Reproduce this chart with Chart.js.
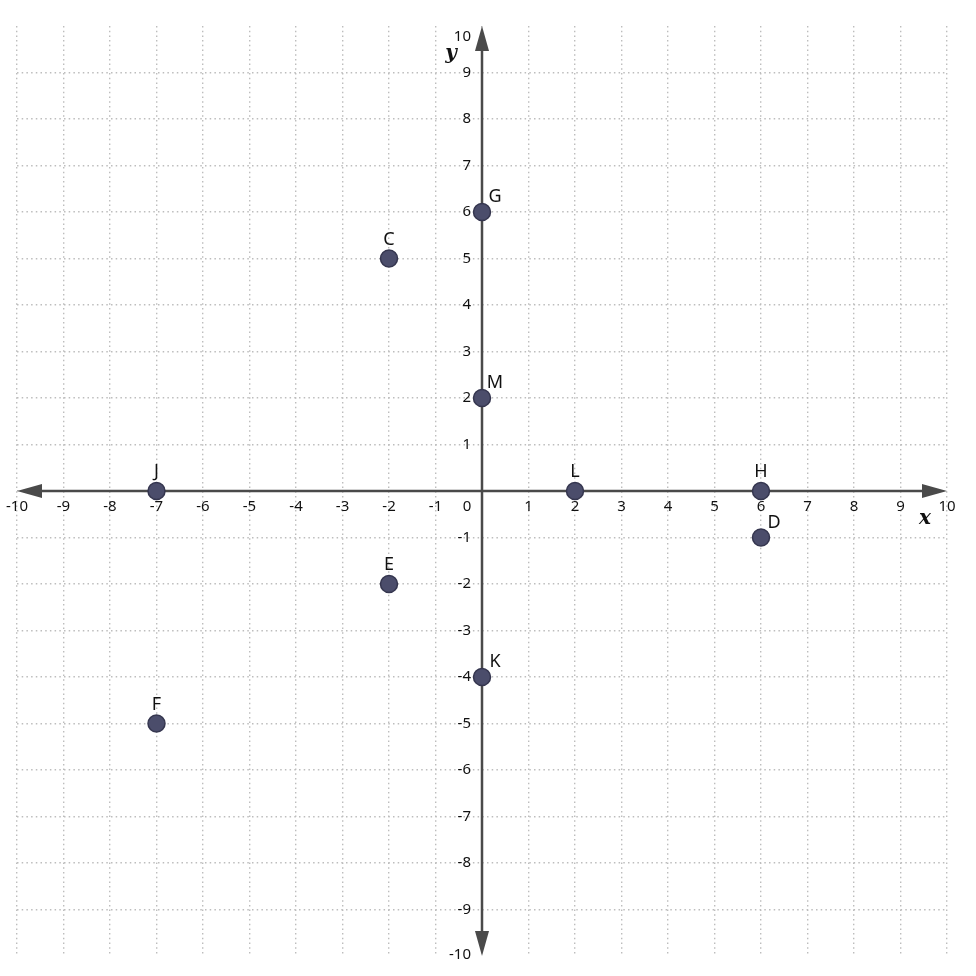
<!DOCTYPE html>
<html>
<head>
<meta charset="utf-8">
<script src="https://cdn.jsdelivr.net/npm/chart.js@4/dist/chart.umd.min.js"></script>
<style>
  html, body { margin: 0; padding: 0; background: #fff; }
  #wrap { width: 976px; height: 976px; }
</style>
</head>
<body>
<div id="wrap"><canvas id="plane" width="976" height="976"></canvas></div>
<script>
// points on the coordinate plane
const pointNames = ['C', 'G', 'M', 'J', 'L', 'H', 'D', 'E', 'K', 'F'];
const xValues = [-2, 0, 0, -7, 2, 6, 6, -2, 0, -7];
const yValues = [5, 6, 2, 0, 0, 0, -1, -2, -4, -5];

// tick labels
const xTicks = [-10, -9, -8, -7, -6, -5, -4, -3, -2, -1, 0, 1, 2, 3, 4, 5, 6, 7, 8, 9, 10];
const yTicks = [-10, -9, -8, -7, -6, -5, -4, -3, -2, -1, 1, 2, 3, 4, 5, 6, 7, 8, 9, 10];

const axisColor = '#4a4a4a';
const gridColor = '#bdbdbd';
const labelFont = "'Noto Sans', 'Open Sans', sans-serif";

// labels that sit up and to the right instead of centered above
const rightLabels = ['G', 'M', 'D', 'K'];

function arrow(ctx, tipX, tipY, dx, dy) {
    // dx, dy: unit direction the arrow points to
    const len = 25, half = 7;
    const bx = tipX - dx * len, by = tipY - dy * len;
    ctx.beginPath();
    ctx.moveTo(tipX, tipY);
    ctx.lineTo(bx - dy * half, by + dx * half);
    ctx.lineTo(bx + dy * half, by - dx * half);
    ctx.closePath();
    ctx.fill();
}

const planePlugin = {
    id: 'plane',
    beforeDatasetsDraw(chart) {
        const ctx = chart.ctx;
        const xs = chart.scales.x, ys = chart.scales.y;
        const x0 = xs.getPixelForValue(0), y0 = ys.getPixelForValue(0);
        const left = xs.getPixelForValue(-10), right = xs.getPixelForValue(10);
        const top = ys.getPixelForValue(10), bottom = ys.getPixelForValue(-10);

        ctx.save();
        ctx.strokeStyle = axisColor;
        ctx.fillStyle = axisColor;
        ctx.lineWidth = 2.5;
        ctx.beginPath();
        ctx.moveTo(left + 20, y0); ctx.lineTo(right - 20, y0);
        ctx.moveTo(x0, top + 20); ctx.lineTo(x0, bottom - 20);
        ctx.stroke();
        arrow(ctx, left, y0, -1, 0);
        arrow(ctx, right, y0, 1, 0);
        arrow(ctx, x0, top, 0, -1);
        arrow(ctx, x0, bottom, 0, 1);

        // tick labels
        ctx.fillStyle = '#111';
        ctx.font = '15px ' + labelFont;
        ctx.textAlign = 'center';
        ctx.textBaseline = 'middle';
        xTicks.forEach(v => {
            let px = xs.getPixelForValue(v);
            if (v === 0) px -= 15;
            ctx.fillText(String(v), px, y0 + 16);
        });
        ctx.textAlign = 'right';
        yTicks.forEach(v => {
            let py = ys.getPixelForValue(v);
            if (v === 10) py += 11;
            if (v === -10) py -= 1;
            ctx.fillText(String(v), x0 - 11, py);
        });

        // axis names
        ctx.font = "italic bold 20px 'DejaVu Serif', serif";
        ctx.textAlign = 'center';
        ctx.fillText('x', right - 22, y0 + 28);
        ctx.fillText('y', x0 - 31, y0 - 437);
        ctx.restore();
    },
    afterDatasetsDraw(chart) {
        const ctx = chart.ctx;
        const meta = chart.getDatasetMeta(0);
        ctx.save();
        ctx.fillStyle = '#111';
        ctx.font = '18px ' + labelFont;
        ctx.textBaseline = 'middle';
        ctx.textAlign = 'center';
        meta.data.forEach((pt, i) => {
            const name = pointNames[i];
            if (rightLabels.includes(name)) {
                ctx.fillText(name, pt.x + 13, pt.y - 15);
            } else {
                ctx.fillText(name, pt.x, pt.y - 19);
            }
        });
        ctx.restore();
    }
};

const ctx = document.getElementById('plane').getContext('2d');
new Chart(ctx, {
    type: 'scatter',
    data: {
        datasets: [{
            label: 'Points',
            data: xValues.map((x, i) => ({ x: x, y: yValues[i] })),
            backgroundColor: '#4b4d6b',
            borderColor: '#35364f',
            borderWidth: 1.5,
            pointRadius: 8.5,
            pointHoverRadius: 8.5
        }]
    },
    options: {
        responsive: false,
        animation: false,
        layout: { padding: { left: 17, right: 29, top: 26, bottom: 20 } },
        plugins: {
            legend: { display: false },
            tooltip: { enabled: false }
        },
        scales: {
            x: {
                type: 'linear',
                min: -10,
                max: 10,
                ticks: { display: false, stepSize: 1 },
                grid: { color: gridColor, lineWidth: 1.4, drawTicks: false },
                border: { display: false, dash: [1.5, 3.2] }
            },
            y: {
                type: 'linear',
                min: -10,
                max: 10,
                ticks: { display: false, stepSize: 1 },
                grid: {
                    color: c => (c.tick && Math.abs(c.tick.value) === 10) ? 'rgba(0,0,0,0)' : gridColor,
                    lineWidth: 1.4,
                    drawTicks: false
                },
                border: { display: false, dash: [1.5, 3.2] }
            }
        }
    },
    plugins: [planePlugin]
});
</script>
</body>
</html>
